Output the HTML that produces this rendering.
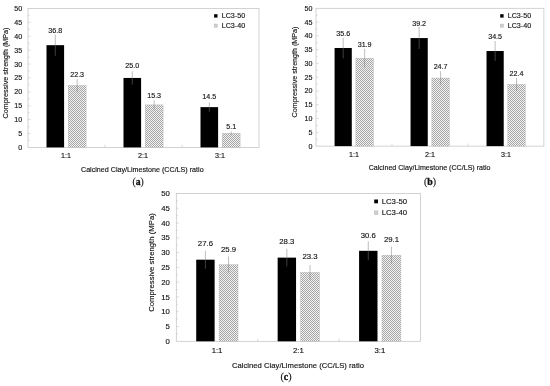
<!DOCTYPE html>
<html><head><meta charset="utf-8"><title>Compressive strength</title>
<style>html,body{margin:0;padding:0;background:#fff}svg{display:block}text{stroke:#111;stroke-width:.14px;paint-order:stroke}</style>
</head><body>
<svg width="550" height="386" viewBox="0 0 550 386" font-family='"Liberation Sans", Arial, sans-serif' fill="#111">
<defs>
<pattern id="h" width="2" height="2" patternUnits="userSpaceOnUse">
<rect width="2" height="2" fill="#f2f2f2"/>
<rect x="0" y="0" width="1" height="1" fill="#a6a6a6"/>
<rect x="1" y="1" width="1" height="1" fill="#a6a6a6"/>
</pattern>
</defs>
<rect width="550" height="386" fill="#fff"/>
<rect x="28" y="8.5" width="231.00" height="138.90" fill="#fff" stroke="#c4c4c4" stroke-width="0.75"/>
<line x1="28" y1="140.46" x2="29.6" y2="140.46" stroke="#c4c4c4" stroke-width="0.6"/>
<line x1="28" y1="133.51" x2="30.6" y2="133.51" stroke="#c4c4c4" stroke-width="0.6"/>
<line x1="28" y1="126.56" x2="29.6" y2="126.56" stroke="#c4c4c4" stroke-width="0.6"/>
<line x1="28" y1="119.62" x2="30.6" y2="119.62" stroke="#c4c4c4" stroke-width="0.6"/>
<line x1="28" y1="112.68" x2="29.6" y2="112.68" stroke="#c4c4c4" stroke-width="0.6"/>
<line x1="28" y1="105.73" x2="30.6" y2="105.73" stroke="#c4c4c4" stroke-width="0.6"/>
<line x1="28" y1="98.78" x2="29.6" y2="98.78" stroke="#c4c4c4" stroke-width="0.6"/>
<line x1="28" y1="91.84" x2="30.6" y2="91.84" stroke="#c4c4c4" stroke-width="0.6"/>
<line x1="28" y1="84.90" x2="29.6" y2="84.90" stroke="#c4c4c4" stroke-width="0.6"/>
<line x1="28" y1="77.95" x2="30.6" y2="77.95" stroke="#c4c4c4" stroke-width="0.6"/>
<line x1="28" y1="71.01" x2="29.6" y2="71.01" stroke="#c4c4c4" stroke-width="0.6"/>
<line x1="28" y1="64.06" x2="30.6" y2="64.06" stroke="#c4c4c4" stroke-width="0.6"/>
<line x1="28" y1="57.12" x2="29.6" y2="57.12" stroke="#c4c4c4" stroke-width="0.6"/>
<line x1="28" y1="50.17" x2="30.6" y2="50.17" stroke="#c4c4c4" stroke-width="0.6"/>
<line x1="28" y1="43.23" x2="29.6" y2="43.23" stroke="#c4c4c4" stroke-width="0.6"/>
<line x1="28" y1="36.28" x2="30.6" y2="36.28" stroke="#c4c4c4" stroke-width="0.6"/>
<line x1="28" y1="29.34" x2="29.6" y2="29.34" stroke="#c4c4c4" stroke-width="0.6"/>
<line x1="28" y1="22.39" x2="30.6" y2="22.39" stroke="#c4c4c4" stroke-width="0.6"/>
<line x1="28" y1="15.44" x2="29.6" y2="15.44" stroke="#c4c4c4" stroke-width="0.6"/>
<line x1="105.00" y1="147.4" x2="105.00" y2="144.8" stroke="#c4c4c4" stroke-width="0.6"/>
<line x1="182.00" y1="147.4" x2="182.00" y2="144.8" stroke="#c4c4c4" stroke-width="0.6"/>
<text x="22.2" y="147.30" text-anchor="end" font-size="7.15" dy="0.358em">0</text>
<text x="22.2" y="133.41" text-anchor="end" font-size="7.15" dy="0.358em">5</text>
<text x="22.2" y="119.52" text-anchor="end" font-size="7.15" dy="0.358em">10</text>
<text x="22.2" y="105.63" text-anchor="end" font-size="7.15" dy="0.358em">15</text>
<text x="22.2" y="91.74" text-anchor="end" font-size="7.15" dy="0.358em">20</text>
<text x="22.2" y="77.85" text-anchor="end" font-size="7.15" dy="0.358em">25</text>
<text x="22.2" y="63.96" text-anchor="end" font-size="7.15" dy="0.358em">30</text>
<text x="22.2" y="50.07" text-anchor="end" font-size="7.15" dy="0.358em">35</text>
<text x="22.2" y="36.18" text-anchor="end" font-size="7.15" dy="0.358em">40</text>
<text x="22.2" y="22.29" text-anchor="end" font-size="7.15" dy="0.358em">45</text>
<text x="22.2" y="8.40" text-anchor="end" font-size="7.15" dy="0.358em">50</text>
<rect x="46.50" y="45.17" width="17.60" height="102.23" fill="#000"/>
<line x1="55.30" y1="34.57" x2="55.30" y2="55.77" stroke="#7c7c7c" stroke-width="0.5"/>
<text x="55.30" y="30.40" text-anchor="middle" font-size="7.15" dy="0.358em">36.8</text>
<rect x="68.20" y="85.45" width="17.90" height="61.95" fill="url(#h)" stroke="#b4b4b4" stroke-width="0.4"/>
<line x1="77.15" y1="78.85" x2="77.15" y2="92.05" stroke="#7c7c7c" stroke-width="0.5"/>
<text x="77.15" y="74.40" text-anchor="middle" font-size="7.15" dy="0.358em">22.3</text>
<text x="65.90" y="155.8" text-anchor="middle" font-size="7.15" dy="0.358em">1:1</text>
<rect x="123.50" y="77.95" width="17.60" height="69.45" fill="#000"/>
<line x1="132.30" y1="71.25" x2="132.30" y2="84.65" stroke="#7c7c7c" stroke-width="0.5"/>
<text x="132.30" y="65.80" text-anchor="middle" font-size="7.15" dy="0.358em">25.0</text>
<rect x="145.20" y="104.90" width="17.90" height="42.50" fill="url(#h)" stroke="#b4b4b4" stroke-width="0.4"/>
<line x1="154.15" y1="100.20" x2="154.15" y2="109.60" stroke="#7c7c7c" stroke-width="0.5"/>
<text x="154.15" y="95.60" text-anchor="middle" font-size="7.15" dy="0.358em">15.3</text>
<text x="142.90" y="155.8" text-anchor="middle" font-size="7.15" dy="0.358em">2:1</text>
<rect x="200.50" y="107.12" width="17.60" height="40.28" fill="#000"/>
<line x1="209.30" y1="102.52" x2="209.30" y2="111.72" stroke="#7c7c7c" stroke-width="0.5"/>
<text x="209.30" y="96.60" text-anchor="middle" font-size="7.15" dy="0.358em">14.5</text>
<rect x="222.20" y="133.23" width="17.90" height="14.17" fill="url(#h)" stroke="#b4b4b4" stroke-width="0.4"/>
<line x1="231.15" y1="131.33" x2="231.15" y2="135.13" stroke="#7c7c7c" stroke-width="0.5"/>
<text x="231.15" y="126.70" text-anchor="middle" font-size="7.15" dy="0.358em">5.1</text>
<text x="219.90" y="155.8" text-anchor="middle" font-size="7.15" dy="0.358em">3:1</text>
<text x="142.3" y="169.4" text-anchor="middle" font-size="7.15" dy="0.358em">Calcined Clay/Limestone (CC/LS) ratio</text>
<text transform="translate(5.4,73) rotate(-90)" text-anchor="middle" font-size="7.15" dy="0.358em">Compressive strength (MPa)</text>
<rect x="214.1" y="14.20" width="3.4" height="3.4" fill="#000"/>
<rect x="214.1" y="24.00" width="3.4" height="3.4" fill="#cfcfcf" stroke="#b5b5b5" stroke-width="0.4"/>
<text x="221.7" y="15.9" font-size="7.15" dy="0.358em">LC3-50</text>
<text x="221.7" y="25.7" font-size="7.15" dy="0.358em">LC3-40</text>
<text x="138.2" y="184.5" text-anchor="middle" font-family='"Liberation Serif", "Times New Roman", serif' font-size="9.6">(<tspan font-weight="bold" stroke-width="0.3">a</tspan>)</text>
<rect x="316" y="8.3" width="227.90" height="137.80" fill="#fff" stroke="#c4c4c4" stroke-width="0.75"/>
<line x1="316" y1="139.21" x2="317.6" y2="139.21" stroke="#c4c4c4" stroke-width="0.6"/>
<line x1="316" y1="132.32" x2="318.6" y2="132.32" stroke="#c4c4c4" stroke-width="0.6"/>
<line x1="316" y1="125.43" x2="317.6" y2="125.43" stroke="#c4c4c4" stroke-width="0.6"/>
<line x1="316" y1="118.54" x2="318.6" y2="118.54" stroke="#c4c4c4" stroke-width="0.6"/>
<line x1="316" y1="111.65" x2="317.6" y2="111.65" stroke="#c4c4c4" stroke-width="0.6"/>
<line x1="316" y1="104.76" x2="318.6" y2="104.76" stroke="#c4c4c4" stroke-width="0.6"/>
<line x1="316" y1="97.87" x2="317.6" y2="97.87" stroke="#c4c4c4" stroke-width="0.6"/>
<line x1="316" y1="90.98" x2="318.6" y2="90.98" stroke="#c4c4c4" stroke-width="0.6"/>
<line x1="316" y1="84.09" x2="317.6" y2="84.09" stroke="#c4c4c4" stroke-width="0.6"/>
<line x1="316" y1="77.20" x2="318.6" y2="77.20" stroke="#c4c4c4" stroke-width="0.6"/>
<line x1="316" y1="70.31" x2="317.6" y2="70.31" stroke="#c4c4c4" stroke-width="0.6"/>
<line x1="316" y1="63.42" x2="318.6" y2="63.42" stroke="#c4c4c4" stroke-width="0.6"/>
<line x1="316" y1="56.53" x2="317.6" y2="56.53" stroke="#c4c4c4" stroke-width="0.6"/>
<line x1="316" y1="49.64" x2="318.6" y2="49.64" stroke="#c4c4c4" stroke-width="0.6"/>
<line x1="316" y1="42.75" x2="317.6" y2="42.75" stroke="#c4c4c4" stroke-width="0.6"/>
<line x1="316" y1="35.86" x2="318.6" y2="35.86" stroke="#c4c4c4" stroke-width="0.6"/>
<line x1="316" y1="28.97" x2="317.6" y2="28.97" stroke="#c4c4c4" stroke-width="0.6"/>
<line x1="316" y1="22.08" x2="318.6" y2="22.08" stroke="#c4c4c4" stroke-width="0.6"/>
<line x1="316" y1="15.19" x2="317.6" y2="15.19" stroke="#c4c4c4" stroke-width="0.6"/>
<line x1="391.97" y1="146.1" x2="391.97" y2="143.5" stroke="#c4c4c4" stroke-width="0.6"/>
<line x1="467.93" y1="146.1" x2="467.93" y2="143.5" stroke="#c4c4c4" stroke-width="0.6"/>
<text x="312.5" y="146.00" text-anchor="end" font-size="7.15" dy="0.358em">0</text>
<text x="312.5" y="132.22" text-anchor="end" font-size="7.15" dy="0.358em">5</text>
<text x="312.5" y="118.44" text-anchor="end" font-size="7.15" dy="0.358em">10</text>
<text x="312.5" y="104.66" text-anchor="end" font-size="7.15" dy="0.358em">15</text>
<text x="312.5" y="90.88" text-anchor="end" font-size="7.15" dy="0.358em">20</text>
<text x="312.5" y="77.10" text-anchor="end" font-size="7.15" dy="0.358em">25</text>
<text x="312.5" y="63.32" text-anchor="end" font-size="7.15" dy="0.358em">30</text>
<text x="312.5" y="49.54" text-anchor="end" font-size="7.15" dy="0.358em">35</text>
<text x="312.5" y="35.76" text-anchor="end" font-size="7.15" dy="0.358em">40</text>
<text x="312.5" y="21.98" text-anchor="end" font-size="7.15" dy="0.358em">45</text>
<text x="312.5" y="8.20" text-anchor="end" font-size="7.15" dy="0.358em">50</text>
<rect x="334.58" y="47.99" width="17.20" height="98.11" fill="#000"/>
<line x1="343.18" y1="37.69" x2="343.18" y2="58.29" stroke="#7c7c7c" stroke-width="0.5"/>
<text x="343.18" y="33.20" text-anchor="middle" font-size="7.15" dy="0.358em">35.6</text>
<rect x="355.88" y="58.18" width="17.50" height="87.92" fill="url(#h)" stroke="#b4b4b4" stroke-width="0.4"/>
<line x1="364.63" y1="48.98" x2="364.63" y2="67.38" stroke="#7c7c7c" stroke-width="0.5"/>
<text x="364.63" y="44.70" text-anchor="middle" font-size="7.15" dy="0.358em">31.9</text>
<text x="353.98" y="154.6" text-anchor="middle" font-size="7.15" dy="0.358em">1:1</text>
<rect x="410.55" y="38.06" width="17.20" height="108.04" fill="#000"/>
<line x1="419.15" y1="27.06" x2="419.15" y2="49.06" stroke="#7c7c7c" stroke-width="0.5"/>
<text x="419.15" y="23.40" text-anchor="middle" font-size="7.15" dy="0.358em">39.2</text>
<rect x="431.85" y="78.03" width="17.50" height="68.07" fill="url(#h)" stroke="#b4b4b4" stroke-width="0.4"/>
<line x1="440.60" y1="71.13" x2="440.60" y2="84.93" stroke="#7c7c7c" stroke-width="0.5"/>
<text x="440.60" y="66.60" text-anchor="middle" font-size="7.15" dy="0.358em">24.7</text>
<text x="429.95" y="154.6" text-anchor="middle" font-size="7.15" dy="0.358em">2:1</text>
<rect x="486.52" y="51.02" width="17.20" height="95.08" fill="#000"/>
<line x1="495.12" y1="41.02" x2="495.12" y2="61.02" stroke="#7c7c7c" stroke-width="0.5"/>
<text x="495.12" y="36.40" text-anchor="middle" font-size="7.15" dy="0.358em">34.5</text>
<rect x="507.82" y="84.37" width="17.50" height="61.73" fill="url(#h)" stroke="#b4b4b4" stroke-width="0.4"/>
<line x1="516.57" y1="77.97" x2="516.57" y2="90.77" stroke="#7c7c7c" stroke-width="0.5"/>
<text x="516.57" y="73.40" text-anchor="middle" font-size="7.15" dy="0.358em">22.4</text>
<text x="505.92" y="154.6" text-anchor="middle" font-size="7.15" dy="0.358em">3:1</text>
<text x="429.6" y="167.8" text-anchor="middle" font-size="7.1" dy="0.358em">Calcined Clay/Limestone (CC/LS) ratio</text>
<text transform="translate(294.6,72) rotate(-90)" text-anchor="middle" font-size="7.15" dy="0.358em">Compressive strength (MPa)</text>
<rect x="500.2" y="14.20" width="3.4" height="3.4" fill="#000"/>
<rect x="500.2" y="24.00" width="3.4" height="3.4" fill="#cfcfcf" stroke="#b5b5b5" stroke-width="0.4"/>
<text x="507.7" y="15.9" font-size="7.15" dy="0.358em">LC3-50</text>
<text x="507.7" y="25.7" font-size="7.15" dy="0.358em">LC3-40</text>
<text x="430" y="184.9" text-anchor="middle" font-family='"Liberation Serif", "Times New Roman", serif' font-size="9.9">(<tspan font-weight="bold" stroke-width="0.3">b</tspan>)</text>
<rect x="176.3" y="193.45" width="244.30" height="147.85" fill="#fff" stroke="#c4c4c4" stroke-width="0.75"/>
<line x1="176.3" y1="333.91" x2="177.9" y2="333.91" stroke="#c4c4c4" stroke-width="0.6"/>
<line x1="176.3" y1="326.51" x2="178.9" y2="326.51" stroke="#c4c4c4" stroke-width="0.6"/>
<line x1="176.3" y1="319.12" x2="177.9" y2="319.12" stroke="#c4c4c4" stroke-width="0.6"/>
<line x1="176.3" y1="311.73" x2="178.9" y2="311.73" stroke="#c4c4c4" stroke-width="0.6"/>
<line x1="176.3" y1="304.34" x2="177.9" y2="304.34" stroke="#c4c4c4" stroke-width="0.6"/>
<line x1="176.3" y1="296.94" x2="178.9" y2="296.94" stroke="#c4c4c4" stroke-width="0.6"/>
<line x1="176.3" y1="289.55" x2="177.9" y2="289.55" stroke="#c4c4c4" stroke-width="0.6"/>
<line x1="176.3" y1="282.16" x2="178.9" y2="282.16" stroke="#c4c4c4" stroke-width="0.6"/>
<line x1="176.3" y1="274.77" x2="177.9" y2="274.77" stroke="#c4c4c4" stroke-width="0.6"/>
<line x1="176.3" y1="267.38" x2="178.9" y2="267.38" stroke="#c4c4c4" stroke-width="0.6"/>
<line x1="176.3" y1="259.98" x2="177.9" y2="259.98" stroke="#c4c4c4" stroke-width="0.6"/>
<line x1="176.3" y1="252.59" x2="178.9" y2="252.59" stroke="#c4c4c4" stroke-width="0.6"/>
<line x1="176.3" y1="245.20" x2="177.9" y2="245.20" stroke="#c4c4c4" stroke-width="0.6"/>
<line x1="176.3" y1="237.81" x2="178.9" y2="237.81" stroke="#c4c4c4" stroke-width="0.6"/>
<line x1="176.3" y1="230.41" x2="177.9" y2="230.41" stroke="#c4c4c4" stroke-width="0.6"/>
<line x1="176.3" y1="223.02" x2="178.9" y2="223.02" stroke="#c4c4c4" stroke-width="0.6"/>
<line x1="176.3" y1="215.63" x2="177.9" y2="215.63" stroke="#c4c4c4" stroke-width="0.6"/>
<line x1="176.3" y1="208.23" x2="178.9" y2="208.23" stroke="#c4c4c4" stroke-width="0.6"/>
<line x1="176.3" y1="200.84" x2="177.9" y2="200.84" stroke="#c4c4c4" stroke-width="0.6"/>
<line x1="257.73" y1="341.3" x2="257.73" y2="338.7" stroke="#c4c4c4" stroke-width="0.6"/>
<line x1="339.17" y1="341.3" x2="339.17" y2="338.7" stroke="#c4c4c4" stroke-width="0.6"/>
<text x="169.8" y="341.20" text-anchor="end" font-size="7.75" dy="0.358em">0</text>
<text x="169.8" y="326.41" text-anchor="end" font-size="7.75" dy="0.358em">5</text>
<text x="169.8" y="311.63" text-anchor="end" font-size="7.75" dy="0.358em">10</text>
<text x="169.8" y="296.84" text-anchor="end" font-size="7.75" dy="0.358em">15</text>
<text x="169.8" y="282.06" text-anchor="end" font-size="7.75" dy="0.358em">20</text>
<text x="169.8" y="267.27" text-anchor="end" font-size="7.75" dy="0.358em">25</text>
<text x="169.8" y="252.49" text-anchor="end" font-size="7.75" dy="0.358em">30</text>
<text x="169.8" y="237.71" text-anchor="end" font-size="7.75" dy="0.358em">35</text>
<text x="169.8" y="222.92" text-anchor="end" font-size="7.75" dy="0.358em">40</text>
<text x="169.8" y="208.13" text-anchor="end" font-size="7.75" dy="0.358em">45</text>
<text x="169.8" y="193.35" text-anchor="end" font-size="7.75" dy="0.358em">50</text>
<rect x="196.22" y="259.69" width="18.40" height="81.61" fill="#000"/>
<line x1="205.42" y1="250.69" x2="205.42" y2="268.69" stroke="#7c7c7c" stroke-width="0.5"/>
<text x="205.42" y="243.50" text-anchor="middle" font-size="7.75" dy="0.358em">27.6</text>
<rect x="219.12" y="264.71" width="18.90" height="76.59" fill="url(#h)" stroke="#b4b4b4" stroke-width="0.4"/>
<line x1="228.57" y1="256.51" x2="228.57" y2="272.91" stroke="#7c7c7c" stroke-width="0.5"/>
<text x="228.57" y="249.10" text-anchor="middle" font-size="7.75" dy="0.358em">25.9</text>
<text x="217.02" y="350" text-anchor="middle" font-size="7.75" dy="0.358em">1:1</text>
<rect x="277.65" y="257.62" width="18.40" height="83.68" fill="#000"/>
<line x1="286.85" y1="248.82" x2="286.85" y2="266.42" stroke="#7c7c7c" stroke-width="0.5"/>
<text x="286.85" y="241.70" text-anchor="middle" font-size="7.75" dy="0.358em">28.3</text>
<rect x="300.55" y="272.40" width="18.90" height="68.90" fill="url(#h)" stroke="#b4b4b4" stroke-width="0.4"/>
<line x1="310.00" y1="264.90" x2="310.00" y2="279.90" stroke="#7c7c7c" stroke-width="0.5"/>
<text x="310.00" y="256.40" text-anchor="middle" font-size="7.75" dy="0.358em">23.3</text>
<text x="298.45" y="350" text-anchor="middle" font-size="7.75" dy="0.358em">2:1</text>
<rect x="359.08" y="250.82" width="18.40" height="90.48" fill="#000"/>
<line x1="368.28" y1="241.32" x2="368.28" y2="260.32" stroke="#7c7c7c" stroke-width="0.5"/>
<text x="368.28" y="235.60" text-anchor="middle" font-size="7.75" dy="0.358em">30.6</text>
<rect x="381.98" y="255.25" width="18.90" height="86.05" fill="url(#h)" stroke="#b4b4b4" stroke-width="0.4"/>
<line x1="391.43" y1="246.65" x2="391.43" y2="263.85" stroke="#7c7c7c" stroke-width="0.5"/>
<text x="391.43" y="239.30" text-anchor="middle" font-size="7.75" dy="0.358em">29.1</text>
<text x="379.88" y="350" text-anchor="middle" font-size="7.75" dy="0.358em">3:1</text>
<text x="298" y="365" text-anchor="middle" font-size="7.7" dy="0.358em">Calcined Clay/Limestone (CC/LS) ratio</text>
<text transform="translate(151.3,262.5) rotate(-90)" text-anchor="middle" font-size="7.75" dy="0.358em">Compressive strength (MPa)</text>
<rect x="374.2" y="199.50" width="3.8" height="3.8" fill="#000"/>
<rect x="374.2" y="210.80" width="3.8" height="3.8" fill="#cfcfcf" stroke="#b5b5b5" stroke-width="0.4"/>
<text x="381.7" y="201.4" font-size="7.75" dy="0.358em">LC3-50</text>
<text x="381.7" y="212.7" font-size="7.75" dy="0.358em">LC3-40</text>
<text x="286" y="380.3" text-anchor="middle" font-family='"Liberation Serif", "Times New Roman", serif' font-size="10">(<tspan font-weight="bold" stroke-width="0.3">c</tspan>)</text>
</svg>
</body></html>
